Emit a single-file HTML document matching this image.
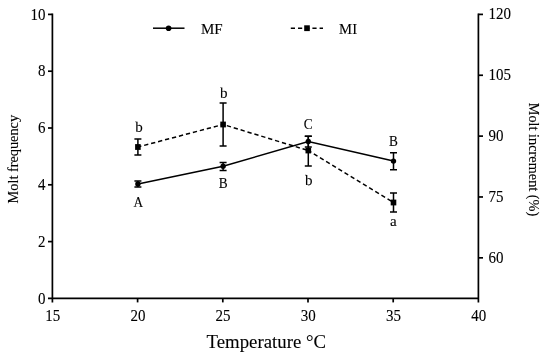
<!DOCTYPE html>
<html><head><meta charset="utf-8"><title>chart</title>
<style>html,body{margin:0;padding:0;background:#fff}body{width:550px;height:360px;overflow:hidden}</style>
</head><body>
<svg width="550" height="360" viewBox="0 0 550 360" style="display:block">
<rect width="550" height="360" fill="#fff"/>
<g stroke="#000" stroke-width="1.7" fill="none" stroke-linecap="butt">
<path d="M52.4 13.55 V302.4"/>
<path d="M478.4 13.55 V302.4"/>
<path d="M48.0 298.4 H478.4"/>
<path d="M48.0 241.60 H52.4"/>
<path d="M48.0 184.80 H52.4"/>
<path d="M48.0 128.00 H52.4"/>
<path d="M48.0 71.20 H52.4"/>
<path d="M48.0 14.40 H52.4"/>
<path d="M478.4 257.83 H483.0"/>
<path d="M478.4 196.97 H483.0"/>
<path d="M478.4 136.11 H483.0"/>
<path d="M478.4 75.26 H483.0"/>
<path d="M478.4 14.40 H483.0"/>
<path d="M137.60 298.4 V302.4"/>
<path d="M222.80 298.4 V302.4"/>
<path d="M308.00 298.4 V302.4"/>
<path d="M393.20 298.4 V302.4"/>
</g>
<g font-family="'Liberation Serif', serif" font-size="15.0" fill="#000" stroke="#000" stroke-width="0.1">
<text transform="translate(45.60 303.60) scale(1.0,1.1)" text-anchor="end">0</text>
<text transform="translate(45.60 246.80) scale(1.0,1.1)" text-anchor="end">2</text>
<text transform="translate(45.60 190.00) scale(1.0,1.1)" text-anchor="end">4</text>
<text transform="translate(45.60 133.20) scale(1.0,1.1)" text-anchor="end">6</text>
<text transform="translate(45.60 76.40) scale(1.0,1.1)" text-anchor="end">8</text>
<text transform="translate(45.60 19.60) scale(1.0,1.1)" text-anchor="end">10</text>
<text transform="translate(488.60 262.73) scale(1.0,1.1)">60</text>
<text transform="translate(488.60 201.87) scale(1.0,1.1)">75</text>
<text transform="translate(488.60 141.01) scale(1.0,1.1)">90</text>
<text transform="translate(488.60 80.16) scale(1.0,1.1)">105</text>
<text transform="translate(488.60 19.30) scale(1.0,1.1)">120</text>
<text transform="translate(52.70 320.60) scale(1.0,1.1)" text-anchor="middle">15</text>
<text transform="translate(137.90 320.60) scale(1.0,1.1)" text-anchor="middle">20</text>
<text transform="translate(223.10 320.60) scale(1.0,1.1)" text-anchor="middle">25</text>
<text transform="translate(308.30 320.60) scale(1.0,1.1)" text-anchor="middle">30</text>
<text transform="translate(393.50 320.60) scale(1.0,1.1)" text-anchor="middle">35</text>
<text transform="translate(478.70 320.60) scale(1.0,1.1)" text-anchor="middle">40</text>
</g>
<g stroke="#000" stroke-width="1.5" fill="none">
<path d="M137.90 181.00 V187.00 M134.40 181.00 H141.40 M134.40 187.00 H141.40"/>
<path d="M223.10 162.40 V170.40 M219.60 162.40 H226.60 M219.60 170.40 H226.60"/>
<path d="M308.30 136.20 V146.90 M304.80 136.20 H311.80 M304.80 146.90 H311.80"/>
<path d="M393.50 152.70 V169.70 M390.00 152.70 H397.00 M390.00 169.70 H397.00"/>
<path d="M137.90 139.00 V155.00 M134.40 139.00 H141.40 M134.40 155.00 H141.40"/>
<path d="M223.10 103.10 V146.10 M219.60 103.10 H226.60 M219.60 146.10 H226.60"/>
<path d="M308.30 136.20 V165.90 M304.80 136.20 H311.80 M304.80 165.90 H311.80"/>
<path d="M393.50 192.90 V211.90 M390.00 192.90 H397.00 M390.00 211.90 H397.00"/>
<polyline points="137.90,184.0 223.10,166.2 308.30,141.5 393.50,161.1"/>
<path stroke-dasharray="4.3 2.9" stroke-dashoffset="0.75" d="M137.90 147.0 L223.10 124.5"/>
<path stroke-dasharray="4.3 2.9" stroke-dashoffset="3.3" d="M223.10 124.5 L308.30 150.5"/>
<path stroke-dasharray="4.3 2.9" stroke-dashoffset="0.75" d="M308.30 150.5 L393.50 202.5"/>
<path d="M153 28.2 H184.5"/>
<path stroke-dasharray="4.2 3" d="M290.8 28.2 H323"/>
</g>
<g fill="#000">
<circle cx="137.90" cy="184.0" r="2.7"/>
<circle cx="223.10" cy="166.2" r="2.7"/>
<circle cx="308.30" cy="141.5" r="2.7"/>
<circle cx="393.50" cy="161.1" r="2.7"/>
<rect x="135.10" y="144.10" width="5.6" height="5.8"/>
<rect x="220.30" y="121.60" width="5.6" height="5.8"/>
<rect x="305.50" y="147.60" width="5.6" height="5.8"/>
<rect x="390.70" y="199.60" width="5.6" height="5.8"/>
<circle cx="168.6" cy="28.2" r="2.8"/>
<rect x="304.2" y="25.3" width="5.6" height="5.8"/>
</g>
<g font-family="'Liberation Serif', serif" font-size="14.3" fill="#000" stroke="#000" stroke-width="0.1" text-anchor="middle">
<text transform="translate(138.20 206.60) scale(1.0,1.03)" font-size="13.3">A</text>
<text transform="translate(223.30 187.60) scale(1.0,1.03)" font-size="13.3">B</text>
<text transform="translate(308.20 129.10) scale(1.0,1.03)" font-size="13.3">C</text>
<text transform="translate(393.50 145.80) scale(1.0,1.03)" font-size="13.3">B</text>
<text transform="translate(139.10 131.70) rotate(0.2) scale(1.0,0.97)" font-size="15.0">b</text>
<text transform="translate(223.70 97.80) rotate(0.2) scale(1.0,0.99)" font-size="15.0">b</text>
<text transform="translate(308.70 185.00) rotate(0.2) scale(1.0,0.97)" font-size="15.0">b</text>
<text x="393.35" y="225.80" font-size="15.0">a</text>
</g>
<g font-family="'Liberation Serif', serif" font-size="15" fill="#000" stroke="#000" stroke-width="0.1">
<text transform="translate(201.00 33.80) scale(1.0,1.03)">MF</text>
<text transform="translate(339.10 33.80) scale(0.98,1.03)">MI</text>
</g>
<g font-family="'Liberation Serif', serif" fill="#000" stroke="#000" stroke-width="0.1" text-anchor="middle">
<text font-size="14.3" transform="translate(18 159.2) rotate(-90) scale(1,1.06)">Molt frequency</text>
<text font-size="14.3" transform="translate(528.8 159.5) rotate(90) scale(1,1.04)">Molt increment (%)</text>
<text font-size="18.8" x="266.3" y="348">Temperature °C</text>
</g>
</svg>
</body></html>
